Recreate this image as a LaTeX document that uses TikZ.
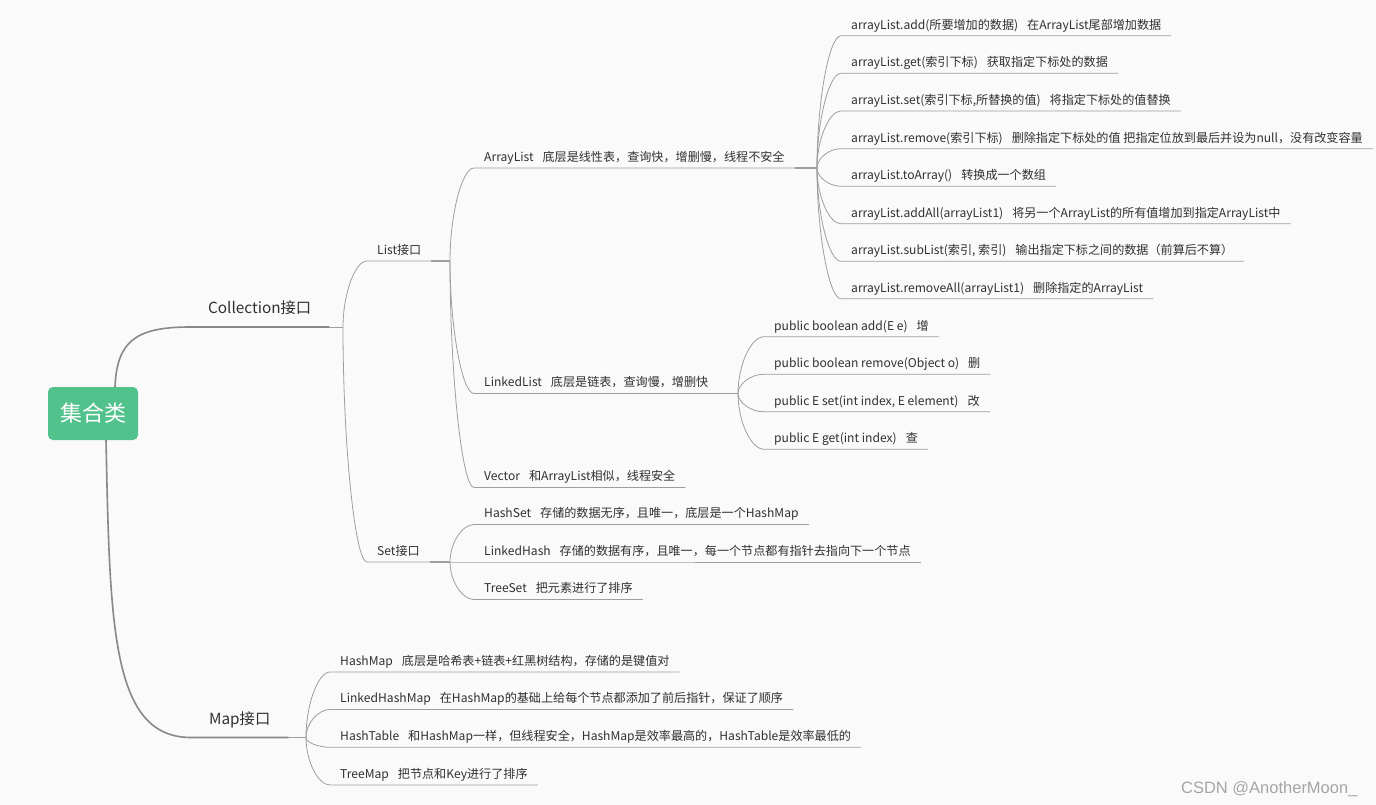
\documentclass[tikz,border=0pt]{standalone}
\usepackage{fontspec}
\setmainfont{Noto Sans CJK SC}
\newfontfamily\wmfont{Liberation Sans}
\usetikzlibrary{calc}

\definecolor{paper}{RGB}{250,250,250}
\definecolor{ink}{RGB}{48,48,48}
\definecolor{rootgreen}{RGB}{82,194,140}
\definecolor{twigc}{RGB}{158,158,158}
\definecolor{trunkc}{RGB}{136,136,136}
\definecolor{wmc}{RGB}{165,165,165}

\newcommand{\tsep}{\hspace{9pt}}
% curved connector from a fork point into the underline of a child topic
\newcommand{\branch}[2]{%
  \path (#1 |- #2.south west) coordinate (knee);
  \draw[twig] (#1) .. controls ($(#1)!.5!(knee)$) and ($(knee)!.5!(#2.south west)$) .. (#2.south west) -- (#2.south east);}

\begin{document}
\begin{tikzpicture}[
    x=1pt, y=-1pt,
    rootbox/.style={rectangle, rounded corners=5pt, fill=rootgreen, text=white, inner sep=0pt,
      minimum width=90pt, minimum height=53pt, font=\fontsize{22}{26}\selectfont},
    topic/.style={anchor=south west, inner xsep=10pt, inner ysep=3.4pt, text depth=3pt,
      text=ink, font=\fontsize{12.1}{14}\selectfont},
    major/.style={topic, inner xsep=18pt, inner ysep=10pt, font=\fontsize{15.3}{18}\selectfont},
    twig/.style={draw=twigc, line width=0.8pt},
    stem/.style={draw=twigc, line width=1.6pt},
    trunk/.style={draw=trunkc, line width=1.6pt},
    wmark/.style={anchor=base east, text=wmc, font=\wmfont\fontsize{16.5}{19}\selectfont}
  ]
  \fill[paper] (0,0) rectangle (1376,805);
  \useasboundingbox (0,0) rectangle (1376,805);

  \node[rootbox] (root) at (93,413.5) {集合类};

  \node[major] (coll) at (190,327)   {Collection接口};
  \node[major] (map)  at (191,737.5) {Map接口};

  \node[topic] (list) at (367,261) {List接口};
  \node[topic] (set)  at (367,562) {Set接口};

  \node[topic] (arr)   at (474,168)   {ArrayList\tsep 底层是线性表，查询快，增删慢，线程不安全};
  \node[topic] (lnk)   at (474,393.5) {LinkedList\tsep 底层是链表，查询慢，增删快};
  \node[topic] (vec)   at (474,487.5) {Vector\tsep 和ArrayList相似，线程安全};
  \node[topic] (hset)  at (474,524.5) {HashSet\tsep 存储的数据无序，且唯一，底层是一个HashMap};
  \node[topic] (lhash) at (474,562)   {LinkedHash\tsep 存储的数据有序，且唯一，每一个节点都有指针去指向下一个节点};
  \node[topic] (tset)  at (474,599.5) {TreeSet\tsep 把元素进行了排序};

  \node[topic] (a1) at (841,35.7)  {arrayList.add(所要增加的数据)\tsep 在ArrayList尾部增加数据};
  \node[topic] (a2) at (841,73.3)  {arrayList.get(索引下标)\tsep 获取指定下标处的数据};
  \node[topic] (a3) at (841,111)   {arrayList.set(索引下标,所替换的值)\tsep 将指定下标处的值替换};
  \node[topic] (a4) at (841,148.7) {arrayList.remove(索引下标)\tsep 删除指定下标处的值 把指定位放到最后并设为null，没有改变容量};
  \node[topic] (a5) at (841,186.3) {arrayList.toArray()\tsep 转换成一个数组};
  \node[topic] (a6) at (841,223.8) {arrayList.addAll(arrayList1)\tsep 将另一个ArrayList的所有值增加到指定ArrayList中};
  \node[topic] (a7) at (841,261.3) {arrayList.subList(索引, 索引)\tsep 输出指定下标之间的数据（前算后不算）};
  \node[topic] (a8) at (841,298.8) {arrayList.removeAll(arrayList1)\tsep 删除指定的ArrayList};

  \node[topic] (k1) at (764,336.7) {public boolean add(E e)\tsep 增};
  \node[topic] (k2) at (764,374.2) {public boolean remove(Object o)\tsep 删};
  \node[topic] (k3) at (764,411.8) {public E set(int index, E element)\tsep 改};
  \node[topic] (k4) at (764,449.3) {public E get(int index)\tsep 查};

  \node[topic] (hmap)  at (330,672)   {HashMap\tsep 底层是哈希表+链表+红黑树结构，存储的是键值对};
  \node[topic] (lhmap) at (330,709.5) {LinkedHashMap\tsep 在HashMap的基础上给每个节点都添加了前后指针，保证了顺序};
  \node[topic] (htab)  at (330,747.3) {HashTable\tsep 和HashMap一样，但线程安全，HashMap是效率最高的，HashTable是效率最低的};
  \node[topic] (tmap)  at (330,785)   {TreeMap\tsep 把节点和Key进行了排序};

  \node[wmark] (wm) at (1361,793) {CSDN @AnotherMoon\_};

  % fork points where the children split off
  \coordinate (collF) at (343,327);
  \coordinate (mapF)  at (306,737.5);
  \coordinate (listF) at (450,261);
  \coordinate (setF)  at (450,562);
  \coordinate (arrF)  at (817,168);
  \coordinate (lnkF)  at (738,393.5);

  % main branches out of the root
  \draw[trunk] ([xshift=22pt]root.north) .. controls +(2,-45) and +(-55,0) .. (coll.south west) -- (coll.south east);
  \draw[trunk] ([xshift=13pt]root.south) .. controls +(4,185) and +(-80,0) .. (map.south west) -- (map.south east);
  \draw[twig] (coll.south east) -- (collF);
  \draw[twig] (map.south east) -- (mapF);

  \branch{collF}{list}
  \branch{collF}{set}
  \draw[stem] (list.south east) -- (listF);
  \draw[stem] (set.south east) -- (setF);

  \branch{listF}{arr}
  \branch{listF}{lnk}
  \branch{listF}{vec}
  \draw[stem] (arr.south east) -- (arrF);
  \draw[stem] (lnk.south east) -- (lnkF);

  \branch{arrF}{a1}
  \branch{arrF}{a2}
  \branch{arrF}{a3}
  \branch{arrF}{a4}
  \branch{arrF}{a5}
  \branch{arrF}{a6}
  \branch{arrF}{a7}
  \branch{arrF}{a8}

  \branch{lnkF}{k1}
  \branch{lnkF}{k2}
  \branch{lnkF}{k3}
  \branch{lnkF}{k4}

  \branch{setF}{hset}
  \branch{setF}{lhash}
  \branch{setF}{tset}

  \branch{mapF}{hmap}
  \branch{mapF}{lhmap}
  \branch{mapF}{htab}
  \branch{mapF}{tmap}
\end{tikzpicture}
\end{document}
